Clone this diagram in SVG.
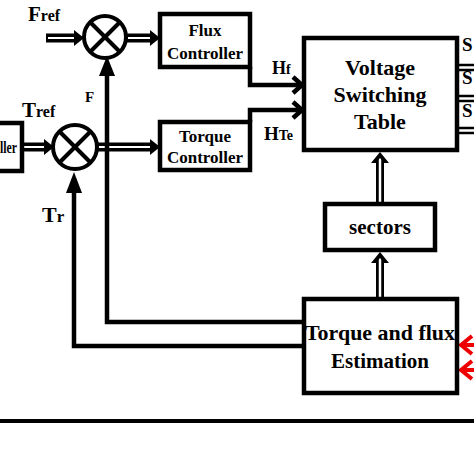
<svg xmlns="http://www.w3.org/2000/svg" width="474" height="474" viewBox="0 0 474 474">
<style>
.box{fill:#fff;stroke:#000;stroke-width:4.5}
.t{font-family:"Liberation Serif","Times New Roman",serif;font-weight:bold;fill:#000}
.ln{fill:none;stroke:#000;stroke-width:4.5;stroke-linejoin:miter}
.chev{fill:none;stroke:#000;stroke-width:4.5}
.dblo{fill:none;stroke:#000;stroke-width:9}
.dbli{fill:none;stroke:#fff;stroke-width:2}
.vo{fill:none;stroke:#000;stroke-width:8}
.vi{fill:none;stroke:#fff;stroke-width:2.5}
.red{fill:none;stroke:#e00;stroke-width:4}
</style>
<rect width="474" height="474" fill="#fff"/>
<g id="connectors">
  <line class="dblo" x1="46" y1="38" x2="76" y2="38"/>
  <line class="dbli" x1="48" y1="38" x2="80" y2="38"/>
  <polygon points="74,30 84,38 74,46" fill="#000"/>
  <line class="dblo" x1="127" y1="38" x2="152" y2="38"/>
  <line class="dbli" x1="128" y1="38" x2="156" y2="38"/>
  <polygon points="150,30 160,38 150,46" fill="#000"/>
  <line class="dblo" x1="22" y1="147" x2="46" y2="147"/>
  <line class="dbli" x1="24" y1="147" x2="50" y2="147"/>
  <polygon points="44,139 54,147 44,155" fill="#000"/>
  <line class="dblo" x1="97" y1="147" x2="152" y2="147"/>
  <line class="dbli" x1="98" y1="147" x2="156" y2="147"/>
  <polygon points="150,139 160,147 150,155" fill="#000"/>
  <polyline class="ln" points="250,67 250,85 301,85"/>
  <polyline class="chev" points="293,77 302,85 293,93"/>
  <polyline class="ln" points="250,122 250,110 301,110"/>
  <polyline class="chev" points="293,102 302,110 293,118"/>
  <polyline class="ln" points="305,322 107,322 107,72"/>
  <polygon points="99,76 107,56 115,76" fill="#000"/>
  <polyline class="ln" points="305,346 74,346 74,190"/>
  <polygon points="66,193 74,172 82,193" fill="#000"/>
  <line class="vo" x1="380" y1="298" x2="380" y2="258"/>
  <line class="vi" x1="380" y1="298" x2="380" y2="256"/>
  <polygon points="371,263 380,252 389,263 384,263 380,258 376,263" fill="#000"/>
  <line class="vo" x1="380" y1="203" x2="380" y2="158"/>
  <line class="vi" x1="380" y1="203" x2="380" y2="156"/>
  <polygon points="371,163 380,152 389,163 384,163 380,158 376,163" fill="#000"/>
  <line x1="457" y1="65" x2="474" y2="65" stroke="#000" stroke-width="2.5"/>
  <line x1="457" y1="70" x2="474" y2="70" stroke="#000" stroke-width="2.5"/>
  <line x1="457" y1="96" x2="474" y2="96" stroke="#000" stroke-width="2.5"/>
  <line x1="457" y1="101" x2="474" y2="101" stroke="#000" stroke-width="2.5"/>
  <line x1="457" y1="128" x2="474" y2="128" stroke="#000" stroke-width="2.5"/>
  <line x1="457" y1="133" x2="474" y2="133" stroke="#000" stroke-width="2.5"/>
  <line class="red" x1="461" y1="345" x2="474" y2="345"/>
  <polyline class="red" points="472,336 461,345 472,354"/>
  <line class="red" x1="461" y1="370" x2="474" y2="370"/>
  <polyline class="red" points="472,361 461,370 472,379"/>
  <line x1="0" y1="421" x2="474" y2="421" stroke="#000" stroke-width="4"/>
</g>
<g id="junction-flux">
  <circle cx="105" cy="37" r="21" fill="#fff" stroke="#000" stroke-width="4"/>
  <line x1="90" y1="22" x2="120" y2="52" stroke="#000" stroke-width="4"/>
  <line x1="120" y1="22" x2="90" y2="52" stroke="#000" stroke-width="4"/>
</g>
<g id="junction-torque">
  <circle cx="75" cy="147" r="22" fill="#fff" stroke="#000" stroke-width="4"/>
  <line x1="59.5" y1="131.5" x2="90.5" y2="162.5" stroke="#000" stroke-width="4"/>
  <line x1="90.5" y1="131.5" x2="59.5" y2="162.5" stroke="#000" stroke-width="4"/>
</g>
<g id="speed-controller">
  <rect class="box" x="-10" y="123" width="32" height="48"/>
  <text class="t" x="0" y="153" font-size="16" textLength="17" lengthAdjust="spacingAndGlyphs">ller</text>
</g>
<g id="flux-controller">
  <rect class="box" x="160" y="14" width="90" height="53"/>
  <text class="t" x="205" y="36" font-size="17" text-anchor="middle">Flux</text>
  <text class="t" x="205" y="59" font-size="17" text-anchor="middle">Controller</text>
</g>
<g id="torque-controller">
  <rect class="box" x="160" y="122" width="90" height="48"/>
  <text class="t" x="205" y="142" font-size="17" text-anchor="middle">Torque</text>
  <text class="t" x="205" y="163" font-size="17" text-anchor="middle">Controller</text>
</g>
<g id="voltage-table">
  <rect class="box" x="304" y="38" width="153" height="112"/>
  <text class="t" x="380" y="75" font-size="22" text-anchor="middle">Voltage</text>
  <text class="t" x="380" y="102" font-size="22" text-anchor="middle">Switching</text>
  <text class="t" x="380" y="129" font-size="22" text-anchor="middle">Table</text>
</g>
<g id="sectors">
  <rect class="box" x="325" y="204" width="110" height="46"/>
  <text class="t" x="380" y="234" font-size="21" text-anchor="middle">sectors</text>
</g>
<g id="estimation">
  <rect class="box" x="304" y="299" width="153" height="94"/>
  <text class="t" x="380" y="340" font-size="22" text-anchor="middle" textLength="150" lengthAdjust="spacingAndGlyphs">Torque and flux</text>
  <text class="t" x="380" y="368" font-size="21" text-anchor="middle">Estimation</text>
</g>
<g id="labels">
  <text class="t" x="28" y="21" font-size="21">F<tspan font-size="16">ref</tspan></text>
  <text class="t" x="22" y="117" font-size="21">T<tspan font-size="16">ref</tspan></text>
  <text class="t" x="85" y="102" font-size="15">F</text>
  <text class="t" x="42" y="222" font-size="22">T<tspan font-size="17">r</tspan></text>
  <text class="t" x="272" y="74" font-size="18">H<tspan font-size="14">f</tspan></text>
  <text class="t" x="264" y="140" font-size="19">H<tspan font-size="14">Te</tspan></text>
  <text class="t" x="462" y="51" font-size="19">S</text>
  <text class="t" x="462" y="84" font-size="19">S</text>
  <text class="t" x="462" y="117" font-size="19">S</text>
</g>
</svg>
